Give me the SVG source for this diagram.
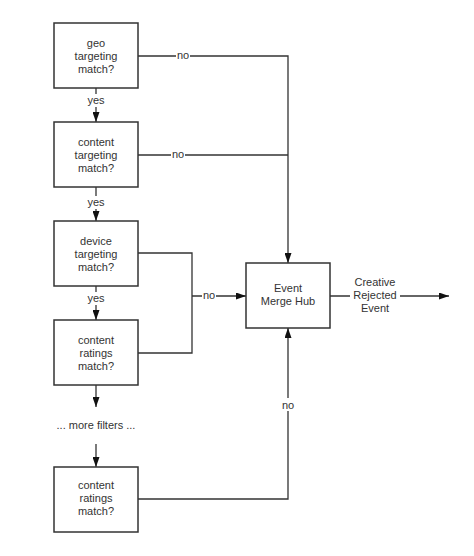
<svg xmlns="http://www.w3.org/2000/svg" width="474" height="556" viewBox="0 0 474 556">
<style>
.box{fill:#fff;stroke:#333;stroke-width:1.5}
.ln{fill:none;stroke:#333;stroke-width:1.3}
text{font-family:"Liberation Sans",Arial,sans-serif;font-size:11px;fill:#333;text-anchor:middle}
.lbg{fill:#fff}
</style>
<defs>
<marker id="ah" viewBox="0 0 10 7" refX="10" refY="3.5" markerWidth="10" markerHeight="7" markerUnits="userSpaceOnUse" orient="auto">
<path d="M0,0 L10,3.5 L0,7 Z" fill="#111"/>
</marker>
</defs>
<rect width="474" height="556" fill="#fff"/>
<g id="connectors">
<path class="ln" d="M96,88 V122" marker-end="url(#ah)"/>
<path class="ln" d="M96,187 V221" marker-end="url(#ah)"/>
<path class="ln" d="M96,286 V320" marker-end="url(#ah)"/>
<path class="ln" d="M96,385 V407" marker-end="url(#ah)"/>
<path class="ln" d="M96,444 V467" marker-end="url(#ah)"/>
<path class="ln" d="M138,56 H288 V263" marker-end="url(#ah)"/>
<path class="ln" d="M138,155 H288"/>
<path class="ln" d="M138,253 H192 V353 H138"/>
<path class="ln" d="M192,296 H246" marker-end="url(#ah)"/>
<path class="ln" d="M138,499 H288 V328" marker-end="url(#ah)"/>
<path class="ln" d="M330,296 H449" marker-end="url(#ah)"/>
<rect class="lbg" x="86" y="94" width="20" height="13"/>
<text x="96" y="104">yes</text>
<rect class="lbg" x="86" y="196" width="20" height="13"/>
<text x="96" y="206">yes</text>
<rect class="lbg" x="86" y="292" width="20" height="13"/>
<text x="96" y="302">yes</text>
<rect class="lbg" x="176" y="49" width="14" height="13"/>
<text x="183" y="59">no</text>
<rect class="lbg" x="171" y="148" width="14" height="13"/>
<text x="178" y="158">no</text>
<rect class="lbg" x="202" y="289" width="14" height="13"/>
<text x="209" y="299">no</text>
<rect class="lbg" x="281" y="398" width="14" height="13"/>
<text x="288" y="409">no</text>
<rect class="lbg" x="350" y="276" width="50" height="38"/>
<text x="375" y="286">Creative</text>
<text x="375" y="299">Rejected</text>
<text x="375" y="312">Event</text>
</g>
<g id="geo">
<rect class="box" x="54" y="23" width="84" height="65"/>
<text x="96" y="47">geo</text><text x="96" y="60">targeting</text><text x="96" y="73">match?</text>
</g>
<g id="content-targeting">
<rect class="box" x="54" y="122" width="84" height="65"/>
<text x="96" y="146">content</text><text x="96" y="159">targeting</text><text x="96" y="172">match?</text>
</g>
<g id="device">
<rect class="box" x="54" y="221" width="84" height="65"/>
<text x="96" y="245">device</text><text x="96" y="258">targeting</text><text x="96" y="271">match?</text>
</g>
<g id="content-ratings">
<rect class="box" x="54" y="320" width="84" height="65"/>
<text x="96" y="344">content</text><text x="96" y="357">ratings</text><text x="96" y="370">match?</text>
</g>
<g id="more-filters">
<text x="96" y="429">... more filters ...</text>
</g>
<g id="content-ratings-2">
<rect class="box" x="54" y="467" width="84" height="65"/>
<text x="96" y="489">content</text><text x="96" y="502">ratings</text><text x="96" y="515">match?</text>
</g>
<g id="hub">
<rect class="box" x="246" y="263" width="84" height="65"/>
<text x="288" y="292">Event</text><text x="288" y="305">Merge Hub</text>
</g>
</svg>
